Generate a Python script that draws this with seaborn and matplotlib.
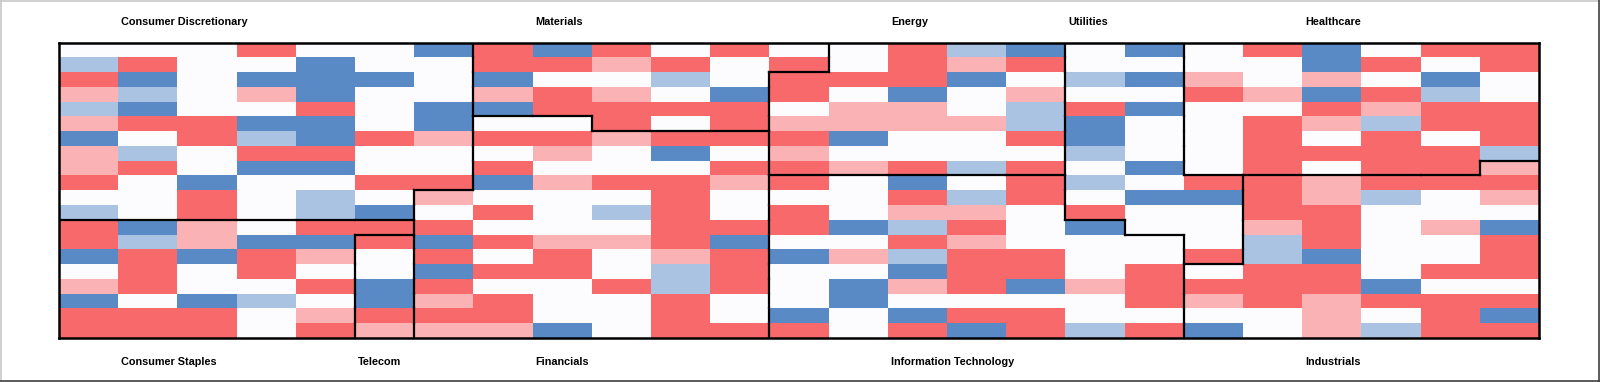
#!/usr/bin/env python3
"""
Sector heatmap with sector outlines (red / white / blue scale)
"""

import matplotlib
matplotlib.use("Agg")
import matplotlib.pyplot as plt
from matplotlib.colors import ListedColormap
from matplotlib.lines import Line2D
import numpy as np
import pandas as pd
import seaborn as sns

# cell codes: R = strong up, r = up, w = flat, b = down, B = strong down
cell_rows = [
    "wwwRwwBRBRwRwwRbBwBwRBwRR",
    "bRwwBwwRRrRwRwRrRwwwwBRwR",
    "RBwBBBwBwwbwRRRBwbBrwrwBw",
    "rbwrBwwrRrwBRwBwrwwRrBRbw",
    "bBwwRwBBRRRRwrrwbRBwwRrRR",
    "rRRBBwBwwRwRrrrrbBwwRrbRR",
    "BwRbBRrRRrRRRBwwRBwwRwRwR",
    "rbwRRwwwrwBwrwwwwbwwRRRRb",
    "rRwBBwwRwwwRRrRbRwBwRwRRr",
    "RwBwwRRBrRRrRwBwRbwRRrRRR",
    "wwRwbwrwwwRwwwRbRwBBRrbwr",
    "bwRwbBwRwbRwRwrrwRwwRRwww",
    "RBrwRRRwwwRRRBbRwBwwrRwrB",
    "RbrBBRBRrrRBwwRrwwwwbRwwR",
    "BRBRrwRwRwrRBrbRRwwRbBwwR",
    "wRwRwwBRRwbRwwBRRwRwRRwRR",
    "rRwwRBRwwRbRwBrRBrRRRRBww",
    "BwBbwBrRwwRwwBwwwwRrRrRRR",
    "RRRwrRRRwwRwBwBRRwwwwrwRB",
    "RRRwRrrrBwRRRwRBRbRBwrbRR",
]

# sector of each cell
sector_rows = [
    "DDDDDDDMMMMMMEEEEUUHHHHHH",
    "DDDDDDDMMMMMMEEEEUUHHHHHH",
    "DDDDDDDMMMMMEEEEEUUHHHHHH",
    "DDDDDDDMMMMMEEEEEUUHHHHHH",
    "DDDDDDDMMMMMEEEEEUUHHHHHH",
    "DDDDDDDFFMMMEEEEEUUHHHHHH",
    "DDDDDDDFFFFFEEEEEUUHHHHHH",
    "DDDDDDDFFFFFEEEEEUUHHHHHH",
    "DDDDDDDFFFFFEEEEEUUHHHHHN",
    "DDDDDDDFFFFFIIIIIUUUNNNNN",
    "DDDDDDFFFFFFIIIIIUUUNNNNN",
    "DDDDDDFFFFFFIIIIIUUUNNNNN",
    "SSSSSSFFFFFFIIIIIIUUNNNNN",
    "SSSSSTFFFFFFIIIIIIIUNNNNN",
    "SSSSSTFFFFFFIIIIIIIUNNNNN",
    "SSSSSTFFFFFFIIIIIIINNNNNN",
    "SSSSSTFFFFFFIIIIIIINNNNNN",
    "SSSSSTFFFFFFIIIIIIINNNNNN",
    "SSSSSTFFFFFFIIIIIIINNNNNN",
    "SSSSSTFFFFFFIIIIIIINNNNNN",
]

top_labels = ["Consumer Discretionary", "Materials", "Energy", "Utilities", "Healthcare"]
top_label_cols = [1, 8, 14, 17, 21]
bottom_labels = ["Consumer Staples", "Telecom", "Financials", "Information Technology", "Industrials"]
bottom_label_cols = [1, 5, 8, 14, 21]

code_values = {"B": -2, "b": -1, "w": 0, "r": 1, "R": 2}
colors = ["#5A8AC6", "#AAC3E3", "#FCFCFF", "#FAB2B4", "#F8696B"]

values = np.array([[code_values[ch] for ch in row] for row in cell_rows])
sectors = np.array([list(row) for row in sector_rows])
n_rows, n_cols = values.shape
df = pd.DataFrame(values)

fig = plt.figure(figsize=(16, 3.82), dpi=100)
ax = fig.add_axes([59 / 1600, 44 / 382, 1480 / 1600, 295.5 / 382])

sns.heatmap(df, cmap=ListedColormap(colors), vmin=-2.5, vmax=2.5, cbar=False,
            xticklabels=False, yticklabels=False, linewidths=0, ax=ax)

# sector outlines where neighbouring cells belong to different sectors
segs = []
for r in range(n_rows):
    for c in range(n_cols):
        if c + 1 < n_cols and sectors[r, c] != sectors[r, c + 1]:
            segs.append(([c + 1, c + 1], [r, r + 1]))
        if r + 1 < n_rows and sectors[r, c] != sectors[r + 1, c]:
            segs.append(([c, c + 1], [r + 1, r + 1]))
for xs, ys in segs:
    ax.add_line(Line2D(xs, ys, color="black", lw=1.6, solid_capstyle="projecting"))

for side in ax.spines.values():
    side.set_visible(True)
    side.set_color("black")
    side.set_linewidth(1.8)

label_font = dict(family=["Liberation Sans", "DejaVu Sans"], fontsize=7.8, fontweight="bold")
for text, col in zip(top_labels, top_label_cols):
    ax.text(col + 0.05, -1.36, text, ha="left", va="center", clip_on=False, **label_font)
for text, col in zip(bottom_labels, bottom_label_cols):
    ax.text(col + 0.05, n_rows + 1.64, text, ha="left", va="center", clip_on=False, **label_font)

# thin frame round the picture
fig.add_artist(Line2D([0.0008, 0.0008], [0, 1], color="#c8c8c8", lw=1.2))
fig.add_artist(Line2D([0, 1], [0.998, 0.998], color="#c8c8c8", lw=1.2))
fig.add_artist(Line2D([0.9994, 0.9994], [0, 1], color="#404040", lw=1.2))
fig.add_artist(Line2D([0, 1], [0.002, 0.002], color="#404040", lw=1.2))

plt.savefig("out.png", dpi=100)
